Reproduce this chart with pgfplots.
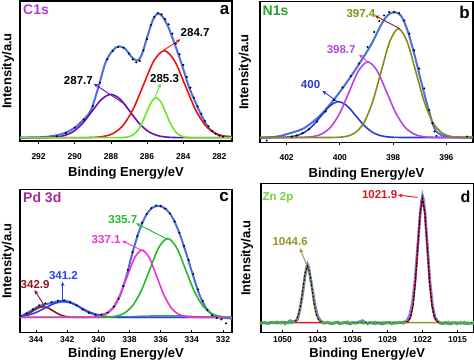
\documentclass[border=0pt]{standalone}
\usepackage{fontspec}
\setmainfont{Liberation Sans}
\usepackage{pgfplots}
\pgfplotsset{compat=1.18}
\usetikzlibrary{arrows.meta}

\definecolor{envblue}{RGB}{75,110,225}
\definecolor{ared}{RGB}{235,20,20}
\definecolor{agreen}{RGB}{110,230,40}
\definecolor{apurple}{RGB}{100,20,180}
\definecolor{tc1s}{RGB}{175,60,225}
\definecolor{tn1s}{RGB}{40,160,40}
\definecolor{tpd}{RGB}{170,40,150}
\definecolor{tzn}{RGB}{110,210,60}
\definecolor{bblue}{RGB}{40,60,220}
\definecolor{bpurple}{RGB}{180,70,230}
\definecolor{bolive}{RGB}{135,140,20}
\definecolor{bdred}{RGB}{140,30,30}
\definecolor{cdred}{RGB}{145,20,30}
\definecolor{cblue}{RGB}{40,70,230}
\definecolor{cmag}{RGB}{240,50,210}
\definecolor{cgrn}{RGB}{40,185,40}
\definecolor{cteal}{RGB}{40,160,130}
\definecolor{dred}{RGB}{225,20,35}
\definecolor{dolive}{RGB}{150,150,30}
\definecolor{dgreen}{RGB}{60,190,60}
\definecolor{dblue}{RGB}{90,110,230}

\newcommand\annot{\bfseries\fontsize{11.5}{12}\selectfont}
\tikzset{ann/.style={line width=0.9pt,-{Stealth[length=4.5pt,width=4pt]}}}

\pgfplotsset{
  xps/.style={
    scale only axis,
    x dir=reverse,
    axis line style={line width=1.2pt},
    ytick=\empty,
    xtick pos=bottom,
    tick style={line width=0.8pt,black},
    tick label style={font=\bfseries\fontsize{8.5}{9}\selectfont},
    /pgf/number format/assume math mode=true,
    /pgf/number format/1000 sep={},
    xlabel={Binding Energy/eV},
    ylabel={Intensity/a.u},
    label style={font=\bfseries\fontsize{13}{14}\selectfont},
    ymin=0,
  },
  topxps/.style={xps, tick align=outside, major tick length=3pt,
    xticklabel style={yshift=-6pt},
    xlabel style={at={(axis description cs:0.5,0)},anchor=base,yshift=-35.5pt}},
  botxps/.style={xps, tick align=inside, major tick length=3pt,
    xlabel style={at={(axis description cs:0.5,0)},anchor=base,yshift=-25pt}},
  comp/.style={line width=1.6pt,smooth,no marks},
  env/.style={line width=2pt,smooth,no marks,envblue},
  raw/.style={only marks,mark=*,mark size=0.8pt,black},
}

\begin{document}
\begin{tikzpicture}
\path[use as bounding box] (0,0) rectangle (474pt,361pt);

% ---------------- Panel a: C1s ----------------
\begin{axis}[topxps, at={(20pt,220pt)}, anchor=south west,
  width=212pt, height=140pt,
  xmin=281.3, xmax=293.03, ymax=420,
  xtick={282,284,286,288,290,292},
  ylabel style={at={(axis description cs:-0.0566,0.5)},anchor=center}]
\addplot[raw] coordinates {
(291.0,14) (290.5,24) (290.0,40) (289.5,64) (289.0,105) (288.6,175) (288.2,245)
(287.9,270) (287.6,282) (287.3,280) (287.0,262) (286.8,245) (286.6,236) (286.4,240)
(286.2,272) (286.0,306) (285.8,348) (285.6,372) (285.4,384) (285.2,380) (285.0,366)
(284.8,350) (284.6,322) (284.4,292) (284.2,260) (284.0,228) (283.8,192) (283.6,160)
(283.4,130) (283.2,104) (283.0,82) (282.8,60) (282.6,44) (282.4,30) (282.2,22)
(282.0,16) (281.8,13)};
\addplot[env] coordinates {
(293.03,10) (292.5,10.5) (292,11) (291.5,13) (291,17) (290.5,25) (290,40) (289.5,65)
(289.1,93) (288.7,160) (288.3,235) (287.9,272) (287.55,284) (287.2,276) (286.85,252)
(286.55,241) (286.3,258) (286.0,310) (285.7,360) (285.45,381) (285.2,377) (284.85,345)
(284.45,288) (284.05,225) (283.7,165) (283.3,113) (282.95,73) (282.6,40) (282.2,22)
(281.8,15) (281.3,13)};
\addplot[comp,apurple] coordinates {
(293.03,10) (292.7,10) (292.2,10) (291.675,10.3) (291.15,11.4) (290.625,15.7)
(290.1,27.6) (289.575,52.2) (289.05,88.8) (288.525,124.7) (288,140) (287.475,124.7)
(286.95,88.8) (286.425,52.2) (285.9,27.6) (285.375,15.7) (284.85,11.4) (284.325,10.3)
(283.8,10) (283.3,10) (282.8,10) (282.3,10) (281.8,10) (281.3,10)};
\addplot[comp,ared] coordinates {
(293.03,10) (292.0,10) (291.0,10) (290.2,10) (289.65,10.1) (289.075,10.6) (288.5,12.9)
(287.925,21.5) (287.35,45.3) (286.775,94.7) (286.2,168.3) (285.625,240.3) (285.05,271)
(284.475,240.3) (283.9,168.3) (283.325,94.7) (282.75,45.3) (282.175,21.5) (281.6,12.9)
(281.025,10.6)};
\addplot[comp,agreen] coordinates {
(293.03,10) (292.0,10) (291.0,10) (290.0,10) (289.0,10) (288.25,10) (287.7,10)
(287.425,10.3) (287.15,11.3) (286.875,15.3) (286.6,26.2) (286.325,49.0) (286.05,82.8)
(285.775,115.9) (285.5,130) (285.225,115.9) (284.95,82.8) (284.675,49.0) (284.4,26.2)
(284.125,15.3) (283.85,11.3) (283.575,10.3) (283.3,10) (282.8,10) (282.3,10) (281.8,10)
(281.3,10)};
\draw[ann,apurple] (axis cs:287.16,108) -- (axis cs:288.95,172);
\draw[ann,ared] (axis cs:285.06,273) -- (axis cs:284.15,305);
\draw[ann,agreen] (axis cs:285.56,131) -- (axis cs:285.25,172);
\node[font=\annot] at (axis cs:289.8,180) {287.7};
\node[font=\annot] at (axis cs:283.34,325) {284.7};
\node[font=\annot] at (axis cs:285.03,187) {285.3};
\node[anchor=north west,inner sep=0pt,font=\bfseries\fontsize{14}{15}\selectfont,tc1s]
  at (axis description cs:0,1) [xshift=3pt,yshift=-3.5pt] {C1s};
\node[anchor=north east,inner sep=0pt,font=\bfseries\fontsize{17}{18}\selectfont]
  at (axis description cs:1,1) [xshift=-2.5pt,yshift=-4.5pt] {a};
\end{axis}

% ---------------- Panel b: N1s ----------------
\begin{axis}[topxps, at={(260pt,218.5pt)}, anchor=south west,
  width=213pt, height=141pt,
  xmin=395.0, xmax=403.0, ymax=425,
  xtick={396,398,400,402},
  ylabel style={at={(axis description cs:-0.0704,0.5)},anchor=center}]
\addplot[raw] coordinates {
(402.75,6) (401.81,18) (401.62,21) (401.40,28) (401.16,40) (400.85,63) (400.53,93)
(400.22,128) (399.9,166) (399.59,200) (399.28,238) (398.96,288) (398.71,333)
(398.52,366) (398.34,383) (398.15,393) (397.96,393) (397.77,390) (397.58,368)
(397.39,328) (397.21,278) (397.02,223) (396.83,163) (396.64,98) (396.52,58)
(396.45,33) (396.37,20) (395.22,18)};
\addplot[env] coordinates {
(403.0,13) (402.35,18) (402.0,25) (401.35,43) (400.72,83) (400.09,143) (399.47,213)
(398.84,293) (398.46,353) (398.21,383) (397.96,393) (397.71,383) (397.46,338)
(397.21,268) (396.96,188) (396.7,108) (396.45,43) (396.2,23) (395.83,16) (395.4,15)
(395.0,15)};
\addplot[comp,bblue] coordinates {
(403,15) (402.65,15) (402.325,15.2) (402.0,16.2) (401.675,19.7) (401.35,29.6)
(401.025,50.1) (400.7,80.5) (400.375,110.3) (400.05,123) (399.725,110.3) (399.4,80.5)
(399.075,50.1) (398.75,29.6) (398.425,19.7) (398.1,16.2) (397.775,15.2) (397.45,15)
(397.0,15) (396.5,15) (396.0,15) (395.5,15) (395,15)};
\addplot[comp,bpurple] coordinates {
(403,15) (402.5,15) (402.1,15) (401.75,15.1) (401.4,15.5) (401.05,17.5) (400.7,25.0)
(400.35,45.8) (400.0,89.0) (399.65,153.3) (399.3,216.2) (398.95,243) (398.6,216.2)
(398.25,153.3) (397.9,89.0) (397.55,45.8) (397.2,25.0) (396.85,17.5) (396.5,15.5)
(396.15,15.1) (395.8,15) (395.4,15) (395,15)};
\addplot[comp,bolive] coordinates {
(403,15) (402.5,15) (402.0,15) (401.5,15) (401.0,15) (400.4,15.1) (400.075,15.7)
(399.75,18.6) (399.425,29.4) (399.1,59.4) (398.775,121.5) (398.45,213.9)
(398.125,304.5) (397.8,343) (397.475,304.5) (397.15,213.9) (396.825,121.5)
(396.5,59.4) (396.175,29.4) (395.85,18.6) (395.525,15.7) (395.2,15.1) (395,15)};
\draw[ann,bblue] (axis cs:400.09,123) -- (axis cs:400.66,156);
\draw[ann,bpurple] (axis cs:398.94,243) -- (axis cs:399.28,265);
\draw[ann,bdred] (axis cs:397.75,343) -- (axis cs:398.69,383);
\node[font=\annot,bblue] at (axis cs:401.1,175) {400};
\node[font=\annot,bpurple] at (axis cs:399.95,280) {398.7};
\node[font=\annot,bolive] at (axis cs:399.21,390) {397.4};
\node[anchor=north west,inner sep=0pt,font=\bfseries\fontsize{14}{15}\selectfont,tn1s]
  at (axis description cs:0,1) [xshift=2.5pt,yshift=-4pt] {N1s};
\node[anchor=north east,inner sep=0pt,font=\bfseries\fontsize{17}{18}\selectfont]
  at (axis description cs:1,1) [xshift=-3pt,yshift=-4pt] {b};
\end{axis}

% ---------------- Panel c: Pd 3d ----------------
\begin{axis}[botxps, at={(20pt,28.3pt)}, anchor=south west,
  width=212pt, height=143.3pt,
  xmin=331.42, xmax=345.03, ymax=430,
  xtick={332,334,336,338,340,342,344},
  ylabel style={at={(axis description cs:-0.0566,0.5)},anchor=center}]
\addplot[raw] coordinates {
(345.0,50) (344.6,58) (344.2,70) (343.8,82) (343.4,88) (343.0,92) (342.6,96)
(342.2,97) (341.8,92) (341.4,82) (341.0,70) (340.6,60) (340.2,54) (339.8,54)
(339.4,60) (339.0,78) (338.7,102) (338.4,140) (338.1,188) (337.8,242) (337.5,290)
(337.2,330) (336.9,356) (336.6,374) (336.3,382) (336.0,381) (335.7,372) (335.4,358)
(335.1,334) (334.8,300) (334.5,260) (334.2,218) (333.9,176) (333.6,130) (333.3,95)
(333.0,68) (332.7,52) (332.4,44) (332.1,40) (331.8,28)};
\addplot[env] coordinates {
(345.03,48) (344.43,63) (343.79,80) (343.14,88) (342.7,93) (342.29,96) (341.95,94)
(341.64,88) (341.3,80) (341.0,70) (340.68,62) (340.36,56) (339.93,53) (339.5,58)
(339.07,73) (338.64,108) (338.21,168) (337.79,243) (337.36,308) (336.93,353)
(336.5,376) (336.07,380) (335.64,370) (335.21,343) (334.79,298) (334.36,238)
(333.93,173) (333.5,113) (333.07,73) (332.64,53) (332.21,46) (331.8,44) (331.42,43)};
\addplot[comp,cdred] coordinates {
(345.175,47.4) (344.85,50.3) (344.525,56.4) (344.2,65.4) (343.875,74.2) (343.55,78)
(343.225,74.2) (342.9,65.4) (342.575,56.4) (342.25,50.3) (341.925,47.4) (341.6,46.4)
(341.275,46) (340.5,46) (339.5,46) (338.5,46) (337.5,46) (336.5,46) (335.5,46)
(334.5,46) (333.5,46) (332.5,46) (331.42,46)};
\addplot[line width=1.3pt,smooth,no marks,cteal] coordinates {
(345.03,46.5) (344,46.5) (343,46.5) (342,46.5) (341,46.5) (340,46.5) (339,47)
(338,48) (337,50) (336,51) (335,51) (334,49) (333,47) (332,45) (331.42,42)};
\addplot[comp,cblue] coordinates {
(345.125,48.1) (344.55,52.4) (343.975,61.3) (343.4,74.5) (342.825,87.5) (342.25,93)
(341.675,87.5) (341.1,74.5) (340.525,61.3) (339.95,52.4) (339.375,48.1) (338.8,46.5)
(338.225,46) (337.5,46) (336.5,46) (335.5,46) (334.5,46) (333.5,46) (332.5,46)
(331.42,46)};
\addplot[comp,cgrn] coordinates {
(345.03,46) (344,46) (343,46) (342,46) (341,46) (340.15,46) (339.575,46.5)
(339.0,48.6) (338.425,56.4) (337.85,78.1) (337.275,123.0) (336.7,189.7)
(336.125,255.2) (335.55,283) (334.975,255.2) (334.4,189.7) (333.825,123.0)
(333.25,78.1) (332.675,56.4) (332.1,48.6) (331.525,46.5) (331.42,46.4)};
\addplot[comp,cmag] coordinates {
(345.03,46) (344,46) (343,46) (342,46) (341.0,46) (340.525,46.4) (340.05,48.2)
(339.575,54.9) (339.1,73.3) (338.625,111.6) (338.15,168.5) (337.675,224.3)
(337.2,248) (336.725,224.3) (336.25,168.5) (335.775,111.6) (335.3,73.3)
(334.825,54.9) (334.35,48.2) (333.875,46.4) (333.4,46) (332.5,46) (331.42,46)};
\draw[ann,cdred] (axis cs:343.46,80) -- (axis cs:344.1,128);
\draw[ann,cblue] (axis cs:342.29,93) -- (axis cs:342.29,153);
\draw[ann,cmag] (axis cs:337.04,243) -- (axis cs:338.47,276);
\draw[ann,cgrn] (axis cs:335.54,280) -- (axis cs:337.57,328);
\node[font=\annot,cdred] at (axis cs:344.06,145) {342.9};
\node[font=\annot,cblue] at (axis cs:342.24,170) {341.2};
\node[font=\annot,cmag] at (axis cs:339.5,280) {337.1};
\node[font=\annot,cgrn] at (axis cs:338.43,340) {335.7};
\node[anchor=north west,inner sep=0pt,font=\bfseries\fontsize{14}{15}\selectfont,tpd]
  at (axis description cs:0,1) [xshift=3pt,yshift=-2.5pt] {Pd 3d};
\node[anchor=north east,inner sep=0pt,font=\bfseries\fontsize{17}{18}\selectfont]
  at (axis description cs:1,1) [xshift=-3pt,yshift=-3pt] {c};
\end{axis}

% ---------------- Panel d: Zn 2p ----------------
\begin{axis}[botxps, at={(261pt,28.3pt)}, anchor=south west,
  width=212.5pt, height=149.3pt,
  xmin=1011.8, xmax=1054.3, ymax=448,
  xtick={1015,1022,1029,1036,1043,1050},
  unbounded coords=jump,
  ylabel style={at={(axis description cs:-0.066,0.5)},anchor=center}]
\addplot[line width=2.8pt,no marks,dblue,opacity=0.85] coordinates {
(1054.3,30) (1053,28) (1052,31) (1051,29) (1050,32) (1049,30) (1048.5,36) (1048,33)
(1047.5,34) (1047,40) (1046.5,70) (1046,115) (1045.5,170) (1045.2,195) (1045.0,205)
(1044.8,198) (1044.5,172) (1044,128) (1043.5,82) (1043,50) (1042.5,38) (1042,31)
(1041.5,29) (1041,31) (1040.5,28) (1040,27) (1039.5,30) (1039,32) (1038.5,27)
(1038,29) (1037.5,31) (1037,28) (1036.5,26) (1036,30) (1035.5,29) (1035,31)
(1034.5,33) (1034,36) (1033.5,31) (1033,28) (1032.5,30) (1032,29) (1031.5,27)
(1031,30) (1030.5,28) (1030,26) (1029.5,29) (1029,31) (1028.5,30) (1028,28)
(1027.5,30) (1027,29) (1026.5,31) (1026,30) (1025.5,33) (1025,38) (1024.5,55)
(1024,90) (1023.5,155) (1023,250) (1022.5,350) (1022.2,395) (1022,410) (1021.8,398)
(1021.5,360) (1021,255) (1020.5,150) (1020,80) (1019.5,46) (1019,35) (1018.5,29)
(1018,27) (1017.5,30) (1017,28) (1016.5,26) (1016,29) (1015.5,30) (1015,28)
(1014,29) (1013,27) (1011.8,29)};
\addplot[line width=1.5pt,no marks,dred] coordinates {
(1054.3,30) (1025.8,30) (1025.325,30.8) (1024.85,34.1) (1024.375,46.4) (1023.9,80.5)
(1023.425,151.1) (1022.95,256.2) (1022.475,359.2) (1022.0,403) (1021.525,359.2)
(1021.05,256.2) (1020.575,151.1) (1020.1,80.5) (1019.625,46.4) (1019.15,34.1)
(1018.675,30.8) (1018.2,30) (1011.8,30)};
\addplot[line width=1.5pt,no marks,dolive] coordinates {
(1054.3,30) (1048.6,30) (1048.15,30.4) (1047.7,31.9) (1047.25,37.5) (1046.8,53.0)
(1046.35,85.2) (1045.9,133.1) (1045.45,180) (1045.0,200) (1044.55,180) (1044.1,133.1)
(1043.65,85.2) (1043.2,53.0) (1042.75,37.5) (1042.3,31.9) (1041.85,30.4) (1041.4,30)
(1011.8,30)};
\addplot[line width=1.3pt,dgreen,mark=*,mark size=0.9pt] coordinates {
(1054.3,29) (1053.5,31) (1052.7,28) (1051.9,30) (1051.1,32) (1050.3,29) (1049.5,27)
(1048.7,30) (1047.9,31) (nan,nan)
(1041.8,29) (1041.0,31) (1040.2,28) (1039.4,30) (1038.6,27) (1037.8,30) (1037.0,32)
(1036.2,29) (1035.4,28) (1034.6,31) (1033.8,29) (1033.0,27) (1032.2,30) (1031.4,31)
(1030.6,28) (1029.8,30) (1029.0,29) (1028.2,27) (1027.4,30) (1026.6,31) (1025.8,29)
(nan,nan)
(1018.4,30) (1017.6,28) (1016.8,31) (1016.0,29) (1015.2,27) (1014.4,30) (1013.6,31)
(1012.8,28) (1011.8,30)};
\addplot[line width=0.9pt,no marks,black,dash pattern=on 2.2pt off 1.6pt] coordinates {
(1054.3,30) (1048.6,30) (1048.15,30.4) (1047.7,31.9) (1047.25,37.5) (1046.8,53.0)
(1046.35,85.2) (1045.9,133.1) (1045.45,180) (1045.0,200) (1044.55,180) (1044.1,133.1)
(1043.65,85.2) (1043.2,53.0) (1042.75,37.5) (1042.3,31.9) (1041.85,30.4) (1041.4,30)
(1025.8,30) (1025.325,30.8) (1024.85,34.1) (1024.375,46.4) (1023.9,80.5)
(1023.425,151.1) (1022.95,256.2) (1022.475,359.2) (1022.0,403) (1021.525,359.2)
(1021.05,256.2) (1020.575,151.1) (1020.1,80.5) (1019.625,46.4) (1019.15,34.1)
(1018.675,30.8) (1018.2,30) (1011.8,30)};
\draw[ann,dred] (axis cs:1022.96,406) -- (axis cs:1026.94,413);
\draw[ann,dolive] (axis cs:1045.16,203) -- (axis cs:1046.5,253);
\node[font=\annot,dred] at (axis cs:1030.58,415) {1021.9};
\node[font=\annot,dolive] at (axis cs:1048.48,275) {1044.6};
\node[anchor=north west,inner sep=0pt,font=\bfseries\fontsize{11.5}{12}\selectfont,tzn]
  at (axis description cs:0,1) [xshift=1.5pt,yshift=-8.5pt] {Zn 2p};
\node[anchor=north east,inner sep=0pt,font=\bfseries\fontsize{16}{17}\selectfont]
  at (axis description cs:1,1) [xshift=-3pt,yshift=-7pt] {d};
\end{axis}
\end{tikzpicture}
\end{document}
